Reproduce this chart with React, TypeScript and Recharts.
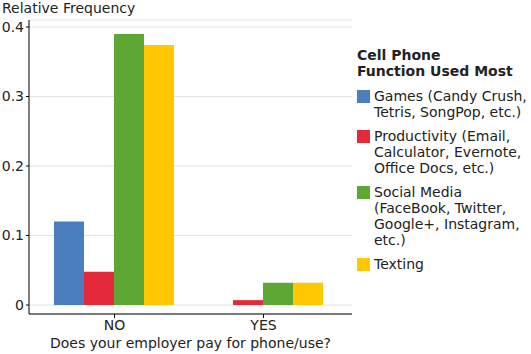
import React from 'react';
import { BarChart, Bar, XAxis, YAxis, CartesianGrid } from 'recharts';

const categories = ['NO', 'YES'];
const games = [0.12, 0];
const productivity = [0.048, 0.007];
const socialMedia = [0.39, 0.032];
const texting = [0.374, 0.032];
const yTicks = [0, 0.1, 0.2, 0.3, 0.4];

const series = [
  { key: 'games', lines: ['Games (Candy Crush,', 'Tetris, SongPop, etc.)'], color: '#4a7ebf' },
  { key: 'productivity', lines: ['Productivity (Email,', 'Calculator, Evernote,', 'Office Docs, etc.)'], color: '#e3293a' },
  { key: 'social', lines: ['Social Media', '(FaceBook, Twitter,', 'Google+, Instagram,', 'etc.)'], color: '#5ea734' },
  { key: 'texting', lines: ['Texting'], color: '#ffc802' },
];

const data = categories.map((c, i) => ({
  name: c,
  games: games[i],
  productivity: productivity[i],
  social: socialMedia[i],
  texting: texting[i],
}));

const font = '"DejaVu Sans", Verdana, sans-serif';

function LegendBox() {
  return (
    <div style={{ position: 'absolute', left: 357, top: 47, fontFamily: font, fontSize: 14, color: '#222', lineHeight: '16px' }}>
      <div style={{ fontWeight: 'bold', marginBottom: 9 }}>
        Cell Phone
        <br />
        Function Used Most
      </div>
      {series.map(s => (
        <div key={s.key} style={{ display: 'flex', marginBottom: 8 }}>
          <div style={{ width: 13, height: 13, background: s.color, marginTop: 2, marginRight: 4, flexShrink: 0 }} />
          <div>
            {s.lines.map((l, j) => (
              <div key={j} style={{ whiteSpace: 'nowrap' }}>{l}</div>
            ))}
          </div>
        </div>
      ))}
    </div>
  );
}

export default function App() {
  return (
    <div style={{ position: 'fixed', left: 0, top: 0, width: 531, height: 354, background: '#fff' }}>
      <div style={{ position: 'absolute', left: 2, top: 0, fontFamily: font, fontSize: 14, color: '#222' }}>
        Relative Frequency
      </div>
      <BarChart
        width={531}
        height={354}
        data={data}
        margin={{ top: 20, right: 179, bottom: 0, left: 0 }}
        barCategoryGap={14}
        barGap={0}
      >
        <CartesianGrid horizontal vertical={false} stroke="#e2e2e2" />
        <XAxis
          dataKey="name"
          height={40}
          padding={{ left: 11, right: 14 }}
          axisLine={{ stroke: '#000' }}
          tickLine={{ stroke: '#000' }}
          tickSize={4}
          tick={{ fontFamily: font, fontSize: 14, fill: '#222' }}
          label={{
            value: 'Does your employer pay for phone/use?',
            position: 'insideBottom',
            offset: 6,
            style: { fontFamily: font, fontSize: 14, fill: '#222' },
          }}
        />
        <YAxis
          width={29}
          domain={[0, 0.4]}
          ticks={yTicks}
          padding={{ top: 7, bottom: 9 }}
          axisLine={{ stroke: '#000' }}
          tickLine={{ stroke: '#000' }}
          tickSize={3}
          tickFormatter={(v: number) => (v === 0 ? '0' : String(v))}
          tick={{ fontFamily: font, fontSize: 14, fill: '#222' }}
        />
        {series.map(s => (
          <Bar key={s.key} dataKey={s.key} fill={s.color} isAnimationActive={false} />
        ))}
      </BarChart>
      <LegendBox />
    </div>
  );
}
